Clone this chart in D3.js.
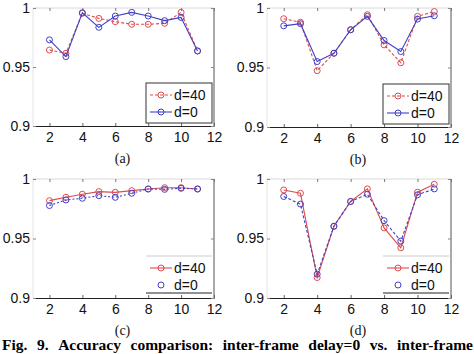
<!DOCTYPE html>
<html>
<head>
<meta charset="utf-8">
<script src="https://cdn.jsdelivr.net/npm/d3@7"></script>
<style>
  body { margin: 0; background: #fff; }
  svg { display: block; }
</style>
</head>
<body>
<div class="main"></div>
<script>
////Global Variables
const width = 474;
const height = 354;

const frames = [2, 3, 4, 5, 6, 7, 8, 9, 10, 11];
const xTicks = [2, 4, 6, 8, 10, 12];
const yTicks = [0.9, 0.95, 1];
const yTickLabels = ['0.9', '0.95', '1'];
const seriesNames = ['d=40', 'd=0'];
const panelLabels = ['(a)', '(b)', '(c)', '(d)'];

const aD40 = [0.9644, 0.9616, 0.9955, 0.9912, 0.9884, 0.9862, 0.9862, 0.9870, 0.9963, 0.9636];
const aD0 = [0.9730, 0.9588, 0.9960, 0.9836, 0.9932, 0.9963, 0.9932, 0.9893, 0.9920, 0.9636];
const bD40 = [0.9910, 0.9880, 0.9473, 0.9620, 0.9817, 0.9944, 0.9690, 0.9540, 0.9930, 0.9970];
const bD0 = [0.9850, 0.9868, 0.9550, 0.9620, 0.9817, 0.9930, 0.9727, 0.9634, 0.9907, 0.9935];
const cD40 = [0.9818, 0.9846, 0.9872, 0.9894, 0.9888, 0.9902, 0.9916, 0.9927, 0.9927, 0.9916];
const cD0 = [0.9777, 0.9824, 0.9838, 0.9860, 0.9846, 0.9880, 0.9916, 0.9913, 0.9922, 0.9916];
const dD40 = [0.9908, 0.9880, 0.9172, 0.9603, 0.9811, 0.9917, 0.9589, 0.9422, 0.9889, 0.9956];
const dD0 = [0.9853, 0.9789, 0.9200, 0.9603, 0.9811, 0.9872, 0.9650, 0.9478, 0.9867, 0.9917];

const captionWords = ['Fig.', '9.', 'Accuracy', 'comparison:', 'inter-frame', 'delay=0', 'vs.', 'inter-frame'];

const red = '#de4a4e';
const blue = '#4040c8';

const svg = d3.select('.main').append('svg')
  .attr('width', width)
  .attr('height', height);

svg.append('rect').attr('width', width).attr('height', height).attr('fill', '#fff');

// panel boxes and styles
const panels = [
  { box: [33, 214, 8, 126], d40: aD40, d0: aD0, label: panelLabels[0], legend: 'boxed',
    dash40: '3,2', dash0: null, legendLine0: true },
  { box: [267, 451, 8, 127], d40: bD40, d0: bD0, label: panelLabels[1], legend: 'boxed',
    dash40: '3,2', dash0: null, legendLine0: true },
  { box: [33, 214, 179, 298], d40: cD40, d0: cD0, label: panelLabels[2], legend: 'open',
    dash40: null, dash0: '2,2', legendLine0: false },
  { box: [267, 451, 179, 298], d40: dD40, d0: dD0, label: panelLabels[3], legend: 'open',
    dash40: null, dash0: '3,2', legendLine0: false }
];

panels.forEach(drawPanel);

function drawPanel(p) {
  const [x0, x1, yTop, yBot] = p.box;
  const xScale = d3.scaleLinear().domain([1, 12]).range([x0, x1]);
  const yScale = d3.scaleLinear().domain([0.9, 1]).range([yBot, yTop]);
  const g = svg.append('g');

  // frame
  g.append('line').attr('x1', x0).attr('x2', x1).attr('y1', yTop).attr('y2', yTop)
    .attr('stroke', '#d8d8d8').attr('stroke-width', 1);
  g.append('line').attr('x1', x0).attr('x2', x0).attr('y1', yTop).attr('y2', yBot)
    .attr('stroke', '#e4e4e4').attr('stroke-width', 1);
  g.append('line').attr('x1', x1).attr('x2', x1).attr('y1', yTop).attr('y2', yBot)
    .attr('stroke', '#555').attr('stroke-width', 1);

  const xAxis = d3.axisBottom(xScale).tickValues(xTicks).tickSize(-3).tickSizeOuter(0).tickPadding(6);
  g.append('g')
    .attr('transform', `translate(0, ${yBot})`)
    .call(xAxis)
    .call(s => s.select('.domain').attr('stroke', '#222'))
    .call(s => s.selectAll('.tick line').attr('stroke', '#666'))
    .call(s => s.selectAll('text').attr('font-family', 'Liberation Sans, Arial, sans-serif')
      .attr('font-size', 14).attr('fill', '#111'));

  const xTop = d3.axisTop(xScale).tickValues(xTicks).tickSize(-3).tickFormat('');
  g.append('g')
    .attr('transform', `translate(0, ${yTop})`)
    .call(xTop)
    .call(s => s.select('.domain').remove())
    .call(s => s.selectAll('.tick line').attr('stroke', '#777'));

  const yAxis = d3.axisLeft(yScale).tickValues(yTicks).tickSize(-3).tickPadding(3)
    .tickFormat((d, i) => yTickLabels[i]);
  g.append('g')
    .attr('transform', `translate(${x0}, 0)`)
    .call(yAxis)
    .call(s => s.select('.domain').remove())
    .call(s => s.selectAll('.tick line').attr('stroke', '#888'))
    .call(s => s.selectAll('text').attr('font-family', 'Liberation Sans, Arial, sans-serif')
      .attr('font-size', 14).attr('fill', '#111'));

  const yRight = d3.axisRight(yScale).tickValues(yTicks).tickSize(-3).tickFormat('');
  g.append('g')
    .attr('transform', `translate(${x1}, 0)`)
    .call(yRight)
    .call(s => s.select('.domain').remove())
    .call(s => s.selectAll('.tick line').attr('stroke', '#888'));

  const line = d3.line().x((d, i) => xScale(frames[i])).y(d => yScale(d));

  const series = [
    { values: p.d40, color: red, dash: p.dash40 },
    { values: p.d0, color: blue, dash: p.dash0 }
  ];

  series.forEach(s => {
    g.append('path')
      .datum(s.values)
      .attr('fill', 'none')
      .attr('stroke', s.color)
      .attr('stroke-width', 1.1)
      .attr('stroke-dasharray', s.dash)
      .attr('d', line);
    g.selectAll(null)
      .data(s.values)
      .enter()
      .append('circle')
      .attr('cx', (d, i) => xScale(frames[i]))
      .attr('cy', d => yScale(d))
      .attr('r', 3)
      .attr('fill', 'none')
      .attr('stroke', s.color)
      .attr('stroke-width', 1);
  });

  // legend
  const lx0 = x1 - 68, lx1 = x1 - 2;
  const ly0 = p.legend === 'boxed' ? yBot - 43 : yBot - 42;
  const ly1 = p.legend === 'boxed' ? yBot - 3 : yBot - 5;
  const lg = g.append('g');
  if (p.legend === 'boxed') {
    lg.append('rect').attr('x', lx0).attr('y', ly0).attr('width', lx1 - lx0).attr('height', ly1 - ly0)
      .attr('fill', '#fff').attr('stroke', '#333').attr('stroke-width', 1);
  } else {
    lg.append('rect').attr('x', lx0).attr('y', ly0).attr('width', lx1 - lx0).attr('height', ly1 - ly0)
      .attr('fill', '#fff');
    lg.append('line').attr('x1', lx0).attr('x2', lx1).attr('y1', ly0).attr('y2', ly0)
      .attr('stroke', '#ccc');
    lg.append('line').attr('x1', lx0).attr('x2', lx1).attr('y1', ly1).attr('y2', ly1)
      .attr('stroke', '#222');
  }
  const rows = [ly0 + 12, ly0 + 29];
  series.forEach((s, i) => {
    const yy = rows[i];
    if (i === 0 || p.legendLine0) {
      lg.append('line').attr('x1', lx0 + 4).attr('x2', lx0 + 26).attr('y1', yy).attr('y2', yy)
        .attr('stroke', s.color).attr('stroke-width', 1.1)
        .attr('stroke-dasharray', p.legend === 'boxed' && i === 0 ? '3,2' : null);
    }
    lg.append('circle').attr('cx', lx0 + 15).attr('cy', yy).attr('r', 3)
      .attr('fill', 'none').attr('stroke', s.color);
    lg.append('text').attr('x', lx0 + 28).attr('y', yy + 5)
      .attr('font-family', 'Liberation Sans, Arial, sans-serif').attr('font-size', 14)
      .attr('fill', '#111').text(seriesNames[i]);
  });

  // panel label
  svg.append('text')
    .attr('x', (x0 + x1) / 2 - 1)
    .attr('y', yBot + 37)
    .attr('text-anchor', 'middle')
    .attr('font-family', 'Liberation Serif, Times New Roman, serif')
    .attr('font-size', 14)
    .attr('fill', '#111')
    .text(p.label);
}

// caption, justified across the width
const caption = svg.append('text')
  .attr('y', 350)
  .attr('font-family', 'Liberation Serif, Times New Roman, serif')
  .attr('font-weight', 'bold')
  .attr('font-size', 15.5)
  .attr('fill', '#000');
const spans = caption.selectAll('tspan').data(captionWords).enter().append('tspan').text(d => d);
const widths = spans.nodes().map(n => n.getComputedTextLength());
const total = d3.sum(widths);
const gap = (width - 3 - total) / (captionWords.length - 1);
let cx = 2;
spans.attr('x', (d, i) => { const x = cx; cx += widths[i] + gap; return x; });
</script>
</body>
</html>
